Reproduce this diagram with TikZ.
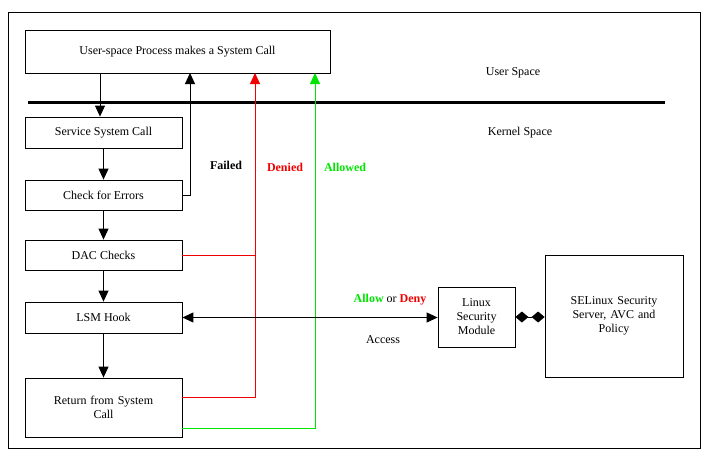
\documentclass[tikz,border=0pt]{standalone}
\usepackage{fontspec}
\setmainfont{Liberation Serif}
\usetikzlibrary{arrows.meta,positioning}
\definecolor{okgreen}{RGB}{0,230,0}
\definecolor{nored}{RGB}{240,0,0}
\tikzset{
  callbox/.style={draw, thick, align=center, font=\fontsize{12}{14}\selectfont},
  flow/.style={-{Triangle[length=11pt,width=10pt]}, line width=1pt},
  lbl/.style={font=\fontsize{12}{14}\selectfont}
}
\begin{document}
\begin{tikzpicture}[x=1pt,y=-1pt]
\useasboundingbox (0,0) rectangle (708,460);
\draw[fill=white] (8,12) rectangle (700,448);
% boxes
\node[callbox, minimum width=305, minimum height=43] (proc) at (177.5,51.5) {User-space Process makes a System Call};
\node[callbox, minimum width=157, minimum height=31] (svc) at (103.5,132.5) {Service System Call};
\node[callbox, minimum width=157, minimum height=30] (chk) at (103.5,195) {Check for Errors};
\node[callbox, minimum width=157, minimum height=30] (dac) at (103.5,255) {DAC Checks};
\node[callbox, minimum width=157, minimum height=31] (lsm) at (103.5,317.5) {LSM Hook};
\node[callbox, minimum width=157, minimum height=59, text width=140] (ret) at (103.5,407.5) {Return from System\\Call};
\node[callbox, minimum width=77, minimum height=60, text width=70] (mod) at (476.5,317) {Linux\\Security\\Module};
\node[callbox, minimum width=138, minimum height=122, text width=130] (se) at (614,316) {SELinux Security\\Server, AVC and\\Policy};
% spaces
\draw[line width=3pt] (28,102) -- (665,102);
\node[lbl] (us) at (513,73) {User Space};
\node[lbl] (ks) at (520,133) {Kernel Space};
% main flow
\draw[flow] (proc.south -| 100,0) -- (svc.north -| 100,0);
\draw[flow] (svc) -- (chk);
\draw[flow] (chk) -- (dac);
\draw[flow] (dac) -- (lsm);
\draw[flow] (lsm) -- (ret);
% results
\draw[flow] (chk.east) -| (190,73);
\draw[color=nored, line width=1pt] (dac.east) -- (255,255);
\draw[flow, color=nored] (ret.east |- 0,397) -| (255,73);
\draw[flow, color=okgreen] (ret.east |- 0,428) -| (315,73);
\node[lbl, font=\bfseries\fontsize{12}{14}\selectfont] (fl) at (226,165) {Failed};
\node[lbl, font=\bfseries\fontsize{12}{14}\selectfont, nored] (dn) at (285,167) {Denied};
\node[lbl, font=\bfseries\fontsize{12}{14}\selectfont, okgreen] (al) at (345,167) {Allowed};
% access
\draw[{Triangle[length=11pt,width=10pt]}-{Triangle[length=11pt,width=10pt]}, line width=1pt] (lsm) -- (mod.west |- lsm);
\draw[{Diamond[length=13pt,width=11pt]}-{Diamond[length=13pt,width=11pt]}, line width=1pt] (mod.east |- 0,317) -- (se.west |- 0,317);
\node[lbl] (ad) at (390,300) {\textbf{\textcolor{okgreen}{Allow}} or \textbf{\textcolor{nored}{Deny}}};
\node[lbl] (ac) at (383,340) {Access};
\end{tikzpicture}
\end{document}
